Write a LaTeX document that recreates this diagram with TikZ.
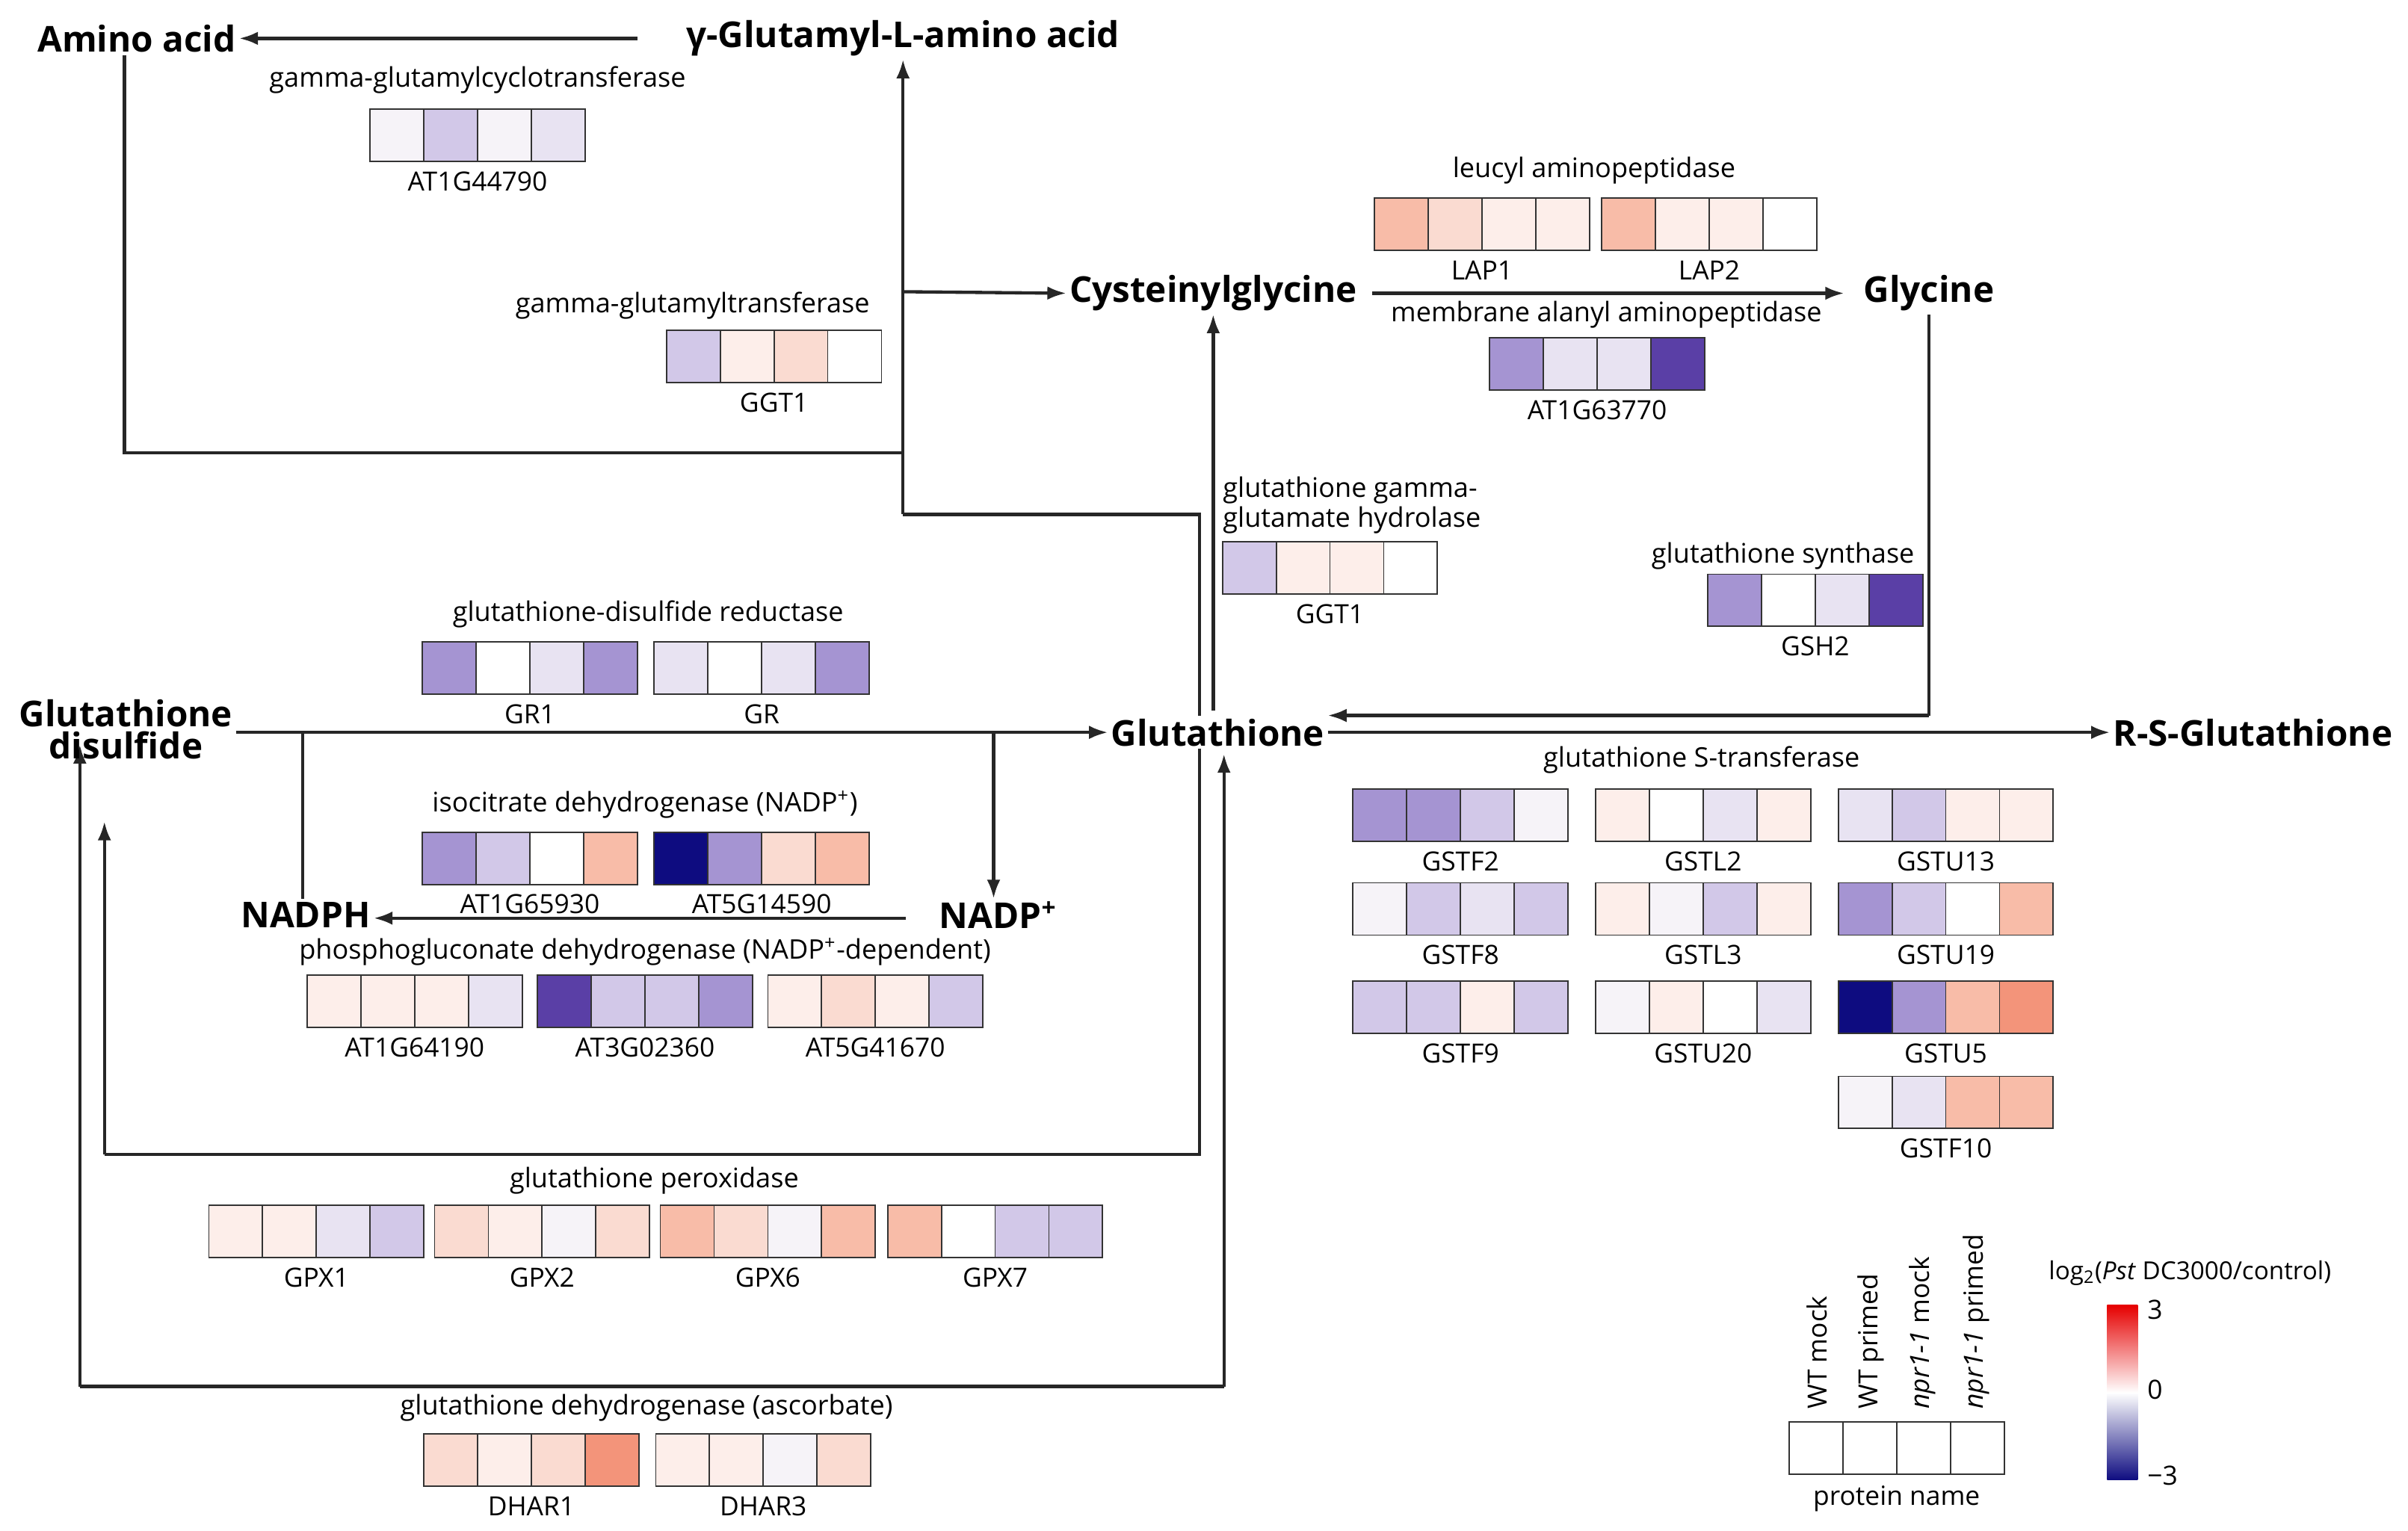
\documentclass[tikz,border=0pt]{standalone}
\usepackage{fontspec}
\setmainfont{Open Sans}
\usetikzlibrary{backgrounds,arrows.meta}
\definecolor{w0}{HTML}{F6F3F8}
\definecolor{b1}{HTML}{E8E3F2}
\definecolor{b2}{HTML}{D2C8E8}
\definecolor{b3}{HTML}{A594D2}
\definecolor{b4}{HTML}{5A3FA6}
\definecolor{b5}{HTML}{0E0C80}
\definecolor{r1}{HTML}{FDEEEA}
\definecolor{r2}{HTML}{FADBD1}
\definecolor{r3}{HTML}{F8BCA8}
\definecolor{r4}{HTML}{F3947A}
\newcommand\hm[7]{\foreach \c [count=\i from 0] in {#3,#4,#5,#6}{\draw[cell,fill=\c] ({#1+35*\i},#2) rectangle ++(35,34);}
\node[lab] at ({#1+70},{#2+47}) {#7};}
\begin{document}
\begin{tikzpicture}[x=0.02cm,y=-0.02cm,
 cell/.style={draw=black!80,line width=0.5pt},
 lab/.style={font=\fontsize{9.8}{10}\selectfont,inner sep=0pt},
 enz/.style={font=\fontsize{10}{10}\selectfont,inner sep=0pt,align=center},
 met/.style={font=\fontsize{13.2}{13}\selectfont\bfseries,inner sep=1pt,align=center},
 ln/.style={line width=1.2pt,black!85},
 ar/.style={ln,-{Latex[length=7pt,width=5pt]}}]
\useasboundingbox (0,0) rectangle (1568,997);
\node[met] (aa) at (89,25) {Amino acid};
\node[met] (gg) at (588,25) {γ-Glutamyl-L-amino acid};
\node[met] (cg) at (790,191) {Cysteinylglycine};
\node[met] (gly) at (1256,191) {Glycine};
\node[met,fill=white] (gsh) at (793,477) {Glutathione};
\node[met,font=\fontsize{13.2}{12}\selectfont\bfseries] (gssg) at (82,475) {Glutathione\\disulfide};
\node[met] (rs) at (1467,477) {R-S-Glutathione};
\node[met] (nadph) at (199,596) {NADPH};
\node[met] (nadp) at (650,596) {NADP\textsuperscript{+}};
\coordinate (c1) at (588,295); \coordinate (c2) at (81,295);
\coordinate (c3) at (588,335); \coordinate (c4) at (781,335);
\coordinate (c5) at (781,752); \coordinate (c6) at (68,752);
\coordinate (c7) at (797,903); \coordinate (c8) at (52,903);
\coordinate (c9) at (1256,466);
\coordinate (c10) at (588,190);
\coordinate (c11) at (197,477); \coordinate (c12) at (647,477);
\begin{scope}[on background layer]
\draw[ar] (415,25) -- (aa.east);
\draw[ln] (aa.south -| c2) -- (c2) -- (c1);
\draw[ar] (c3) -- (gg.south -| c3);
\draw[ar] (c10) -- (cg.west);
\draw[ln] (c3) -- (c4) -- (c5) -- (c6);
\draw[ar] (c6) -- (68,535);
\draw[ar] (c8) -- (52,485);
\draw[ln] (c7) -- (c8);
\draw[ar] (c7) -- (797,491);
\draw[ar] (790,463) -- (cg.south -| 790,0);
\draw[ar] (cg.east) ++(8,0) -- ([xshift=-6pt]gly.west);
\draw[ln] (gly.south) -- (c9);
\draw[ar] (c9) -- (gsh.east |- c9);
\draw[ar] (gsh.east) -- (rs.west);
\draw[ar] (gssg.east |- gsh) -- (gsh.west);
\draw[ln] (c11) -- (nadph.north -| c11);
\draw[ar] (c12) -- (nadp.north -| c12);
\draw[ar] (590,598) -- (nadph.east |- 0,598);
\end{scope}
\node[enz] at (311,52) {gamma-glutamylcyclotransferase};
\node[enz] at (451,199) {gamma-glutamyltransferase};
\node[enz] at (1038,111) {leucyl aminopeptidase};
\node[enz] at (1046,205) {membrane alanyl aminopeptidase};
\node[enz,align=left,anchor=west,font=\fontsize{10}{9.8}\selectfont] at (796,329) {glutathione gamma-\\glutamate hydrolase};
\node[enz] at (1161,362) {glutathione synthase};
\node[enz] at (422,400) {glutathione-disulfide reductase};
\node[enz] at (420,524) {isocitrate dehydrogenase (NADP\textsuperscript{+})};
\node[enz] at (420,620) {phosphogluconate dehydrogenase (NADP\textsuperscript{+}-dependent)};
\node[enz] at (426,769) {glutathione peroxidase};
\node[enz] at (421,917) {glutathione dehydrogenase (ascorbate)};
\node[enz] at (1108,495) {glutathione S-transferase};
\hm{241}{71}{w0}{b2}{w0}{b1}{AT1G44790}
\hm{434}{215}{b2}{r1}{r2}{white}{GGT1}
\hm{895}{129}{r3}{r2}{r1}{r1}{LAP1}
\hm{1043}{129}{r3}{r1}{r1}{white}{LAP2}
\hm{970}{220}{b3}{b1}{b1}{b4}{AT1G63770}
\hm{796}{353}{b2}{r1}{r1}{white}{GGT1}
\hm{1112}{374}{b3}{white}{b1}{b4}{GSH2}
\hm{275}{418}{b3}{white}{b1}{b3}{GR1}
\hm{426}{418}{b1}{white}{b1}{b3}{GR}
\hm{275}{542}{b3}{b2}{white}{r3}{AT1G65930}
\hm{426}{542}{b5}{b3}{r2}{r3}{AT5G14590}
\hm{200}{635}{r1}{r1}{r1}{b1}{AT1G64190}
\hm{350}{635}{b4}{b2}{b2}{b3}{AT3G02360}
\hm{500}{635}{r1}{r2}{r1}{b2}{AT5G41670}
\hm{136}{785}{r1}{r1}{b1}{b2}{GPX1}
\hm{283}{785}{r2}{r1}{w0}{r2}{GPX2}
\hm{430}{785}{r3}{r2}{w0}{r3}{GPX6}
\hm{578}{785}{r3}{white}{b2}{b2}{GPX7}
\hm{276}{934}{r2}{r1}{r2}{r4}{DHAR1}
\hm{427}{934}{r1}{r1}{w0}{r2}{DHAR3}
\hm{881}{514}{b3}{b3}{b2}{w0}{GSTF2}
\hm{1039}{514}{r1}{white}{b1}{r1}{GSTL2}
\hm{1197}{514}{b1}{b2}{r1}{r1}{GSTU13}
\hm{881}{575}{w0}{b2}{b1}{b2}{GSTF8}
\hm{1039}{575}{r1}{w0}{b2}{r1}{GSTL3}
\hm{1197}{575}{b3}{b2}{white}{r3}{GSTU19}
\hm{881}{639}{b2}{b2}{r1}{b2}{GSTF9}
\hm{1039}{639}{w0}{r1}{white}{b1}{GSTU20}
\hm{1197}{639}{b5}{b3}{r3}{r4}{GSTU5}
\hm{1197}{701}{w0}{b1}{r3}{r3}{GSTF10}
\foreach \i in {0,1,2,3}{\draw[cell,fill=white] ({1165+35*\i},926) rectangle ++(35,34);}
\node[lab] at (1235,976) {protein name};
\node[lab,rotate=90,anchor=west] at (1183,918) {WT mock};
\node[lab,rotate=90,anchor=west] at (1218,918) {WT primed};
\node[lab,rotate=90,anchor=west] at (1252,918) {\textit{npr1-1} mock};
\node[lab,rotate=90,anchor=west] at (1287,918) {\textit{npr1-1} primed};
\node[lab,font=\fontsize{9.2}{9}\selectfont] at (1426,829) {log\textsubscript{2}(\textit{Pst} DC3000/control)};
\shade[top color=red!90!black, bottom color=b5, middle color=white] (1372,850) rectangle (1392,964);
\node[lab,anchor=west] at (1398,853) {3};
\node[lab,anchor=west] at (1398,905) {0};
\node[lab,anchor=west] at (1398,961) {−3};
\end{tikzpicture}
\end{document}
